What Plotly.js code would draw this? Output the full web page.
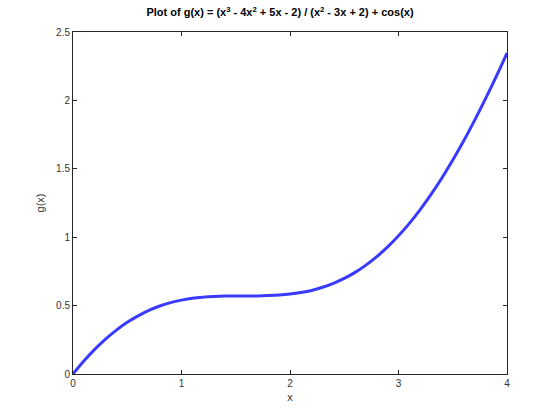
<!DOCTYPE html>
<html>
<head>
<meta charset="utf-8">
<script src="https://cdn.plot.ly/plotly-3.0.1.min.js"></script>
<style>
  body { margin: 0; padding: 0; background: #ffffff; }
  #plot { width: 560px; height: 420px; }
</style>
</head>
<body>
<div id="plot"></div>
<script>

// Values
let x_vals = [0, 0.1, 0.2, 0.3, 0.4, 0.5, 0.6, 0.7, 0.8, 0.9,
              1.0, 1.1, 1.2, 1.3, 1.4, 1.5, 1.6, 1.7, 1.8, 1.9,
              2.0, 2.1, 2.2, 2.3, 2.4, 2.5, 2.6, 2.7, 2.8, 2.9,
              3.0, 3.1, 3.2, 3.3, 3.4, 3.5, 3.6, 3.7, 3.8, 3.9, 4.0];
let g_vals = [0, 0.095, 0.180, 0.255, 0.321, 0.378, 0.425, 0.465, 0.497, 0.522,
              0.540, 0.554, 0.562, 0.567, 0.570, 0.571, 0.571, 0.571, 0.573, 0.577,
              0.584, 0.595, 0.611, 0.634, 0.663, 0.699, 0.743, 0.796, 0.858, 0.929,
              1.010, 1.101, 1.202, 1.313, 1.433, 1.564, 1.703, 1.852, 2.009, 2.174, 2.346];

let x_ticks = [0, 1, 2, 3, 4];
let y_ticks = [0, 0.5, 1, 1.5, 2, 2.5];
let y_ticktext = ["0", "0.5", "1", "1.5", "2", "2.5"];

let data = [{
  x: x_vals,
  y: g_vals,
  mode: 'lines',
  type: 'scatter',
  showlegend: false,
  line: {
    color: '#3a3aff',
    width: 3,
    shape: 'spline'
  }
}];

let axis_style = {
  zeroline: false,
  showgrid: false,
  showline: true,
  mirror: 'ticks',
  linecolor: '#262626',
  linewidth: 1,
  ticks: 'inside',
  ticklen: 4,
  tickcolor: '#262626',
  tickfont: { family: 'Liberation Sans, Arial, sans-serif', size: 10, color: '#333333' },
  fixedrange: true
};

let layout = {
  width: 560,
  height: 420,
  paper_bgcolor: '#ffffff',
  plot_bgcolor: '#ffffff',
  margin: { l: 73, r: 53, t: 32, b: 46 },
  title: {
    text: '<b>Plot of g(x) = (x<sup>3</sup> - 4x<sup>2</sup> + 5x - 2) / (x<sup>2</sup> - 3x + 2) + cos(x)</b>',
    font: { family: 'Liberation Sans, Arial, sans-serif', size: 11, color: '#000000' },
    x: 0.5,
    xanchor: 'center',
    y: 0.97,
    yanchor: 'middle'
  },
  xaxis: Object.assign({}, axis_style, {
    range: [0, 4],
    tickmode: 'array',
    tickvals: x_ticks,
    title: {
      text: 'x',
      font: { family: 'Liberation Sans, Arial, sans-serif', size: 11, color: '#333333' },
      standoff: 5
    }
  }),
  yaxis: Object.assign({}, axis_style, {
    range: [0, 2.5],
    tickmode: 'array',
    tickvals: y_ticks,
    ticktext: y_ticktext,
    title: {
      text: 'g(x)',
      font: { family: 'Liberation Sans, Arial, sans-serif', size: 11, color: '#333333' },
      standoff: 9
    }
  })
};

Plotly.newPlot('plot', data, layout, { displayModeBar: false, staticPlot: true });

</script>
</body>
</html>
